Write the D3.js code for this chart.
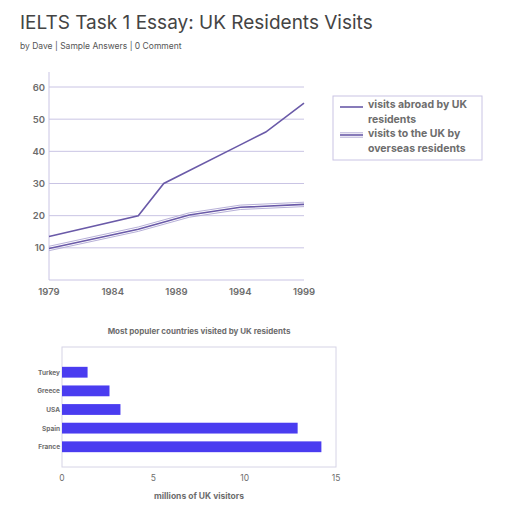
<!DOCTYPE html>
<html><head><meta charset="utf-8">
<script src="https://cdn.jsdelivr.net/npm/d3@7"></script>
<style>body{margin:0;background:#fff}text{font-family:Inter,"Open Sans",sans-serif}</style>
</head><body><svg id="c" width="508" height="512"></svg>
<script>
'use strict';
var years = [1979, 1986, 1988, 1994, 1996, 1999];
var abroad = [13.5, 20, 30, 42, 46, 55];
var overseasYears = [1979, 1986, 1990, 1994, 1999];
var overseas = [9.8, 15.8, 20.2, 22.6, 23.5];
var yTicks = [10, 20, 30, 40, 50, 60];
var xTicks = [1979, 1984, 1989, 1994, 1999];
var countries = ['Turkey', 'Greece', 'USA', 'Spain', 'France'];
var visitors = [1.4, 2.6, 3.2, 12.9, 14.2];

var svg = d3.select('#c');
var grey = '#6d6d6d', purple = '#6a5aa8', light = '#b7b0d8';

svg.append('text').attr('x', 20).attr('y', 29).attr('font-size', 19).attr('fill', '#444').text('IELTS Task 1 Essay: UK Residents Visits');
svg.append('text').attr('x', 20).attr('y', 49).attr('font-size', 8.5).attr('fill', '#555').text('by Dave | Sample Answers | 0 Comment');

// line chart
var x = d3.scaleLinear().domain([1979, 1999]).range([49, 304]);
var y = d3.scaleLinear().domain([0, 60]).range([280, 87]);
var g = svg.append('g');
g.selectAll('.grid').data(yTicks).join('line')
  .attr('x1', 49).attr('x2', 304).attr('y1', d => y(d)).attr('y2', d => y(d))
  .attr('stroke', '#c9c4e4').attr('stroke-width', 1);
g.append('line').attr('x1', 49).attr('x2', 49).attr('y1', 72).attr('y2', 280).attr('stroke', '#c9c4e4');
g.append('line').attr('x1', 49).attr('x2', 304).attr('y1', 280).attr('y2', 280).attr('stroke', '#c9c4e4');
g.selectAll('.yl').data(yTicks).join('text').attr('x', 45).attr('y', d => y(d) + 3.5)
  .attr('text-anchor', 'end').attr('font-size', 9.5).attr('font-weight', 600).attr('fill', grey).text(d => d);
g.selectAll('.xl').data(xTicks).join('text').attr('x', d => x(d)).attr('y', 295)
  .attr('text-anchor', 'middle').attr('font-size', 9.5).attr('font-weight', 600).attr('fill', grey).text(d => d);

var line = d3.line().x(d => x(d[0])).y(d => y(d[1]));
var ov = overseasYears.map((d, i) => [d, overseas[i]]);
[-2.2, 2.2].forEach(function (off) {
  g.append('path').attr('d', line(ov)).attr('transform', 'translate(0,' + off + ')')
    .attr('fill', 'none').attr('stroke', light).attr('stroke-width', 1);
});
g.append('path').attr('d', line(ov)).attr('fill', 'none').attr('stroke', purple).attr('stroke-width', 1.6);
g.append('path').attr('d', line(years.map((d, i) => [d, abroad[i]])))
  .attr('fill', 'none').attr('stroke', purple).attr('stroke-width', 1.6);

// legend
var lg = svg.append('g');
lg.append('rect').attr('x', 333).attr('y', 96).attr('width', 149).attr('height', 64).attr('fill', '#fff').attr('stroke', '#c9c4e4');
lg.append('line').attr('x1', 340).attr('x2', 363).attr('y1', 107).attr('y2', 107).attr('stroke', purple).attr('stroke-width', 1.6);
[-2.2, 2.2].forEach(function (off) {
  lg.append('line').attr('x1', 340).attr('x2', 363).attr('y1', 135 + off).attr('y2', 135 + off).attr('stroke', light);
});
lg.append('line').attr('x1', 340).attr('x2', 363).attr('y1', 135).attr('y2', 135).attr('stroke', purple).attr('stroke-width', 1.6);
[['visits abroad by UK', 108], ['residents', 123], ['visits to the UK by', 137], ['overseas residents', 152]].forEach(function (t) {
  lg.append('text').attr('x', 368).attr('y', t[1]).attr('font-size', 10.5).attr('font-weight', 700).attr('fill', grey).text(t[0]);
});

// bar chart
var bx = d3.scaleLinear().domain([0, 15]).range([62, 336]);
var by = d3.scaleBand().domain(countries).range([359, 460]).padding(0.42);
var b = svg.append('g');
b.append('text').attr('x', 199).attr('y', 334).attr('text-anchor', 'middle').attr('font-size', 8).attr('font-weight', 700).attr('fill', grey).text('Most populer countries visited by UK residents');
b.append('rect').attr('x', 62).attr('y', 347).attr('width', 274).attr('height', 120).attr('fill', 'none').attr('stroke', '#d6d4e6');
b.selectAll('.bar').data(countries).join('rect')
  .attr('x', bx(0)).attr('y', d => by(d)).attr('height', by.bandwidth())
  .attr('width', (d, i) => bx(visitors[i]) - bx(0)).attr('fill', '#4a3cf0');
b.selectAll('.cl').data(countries).join('text').attr('x', 60).attr('y', d => by(d) + by.bandwidth() / 2 + 2.5)
  .attr('text-anchor', 'end').attr('font-size', 6.5).attr('font-weight', 700).attr('fill', grey).text(d => d);
b.selectAll('.bt').data([0, 5, 10, 15]).join('text').attr('x', d => bx(d)).attr('y', 481)
  .attr('text-anchor', 'middle').attr('font-size', 8.5).attr('fill', grey).text(d => d);
b.append('text').attr('x', 199).attr('y', 499).attr('text-anchor', 'middle').attr('font-size', 8.5).attr('font-weight', 700).attr('fill', grey).text('millions of UK visitors');
</script></body></html>
